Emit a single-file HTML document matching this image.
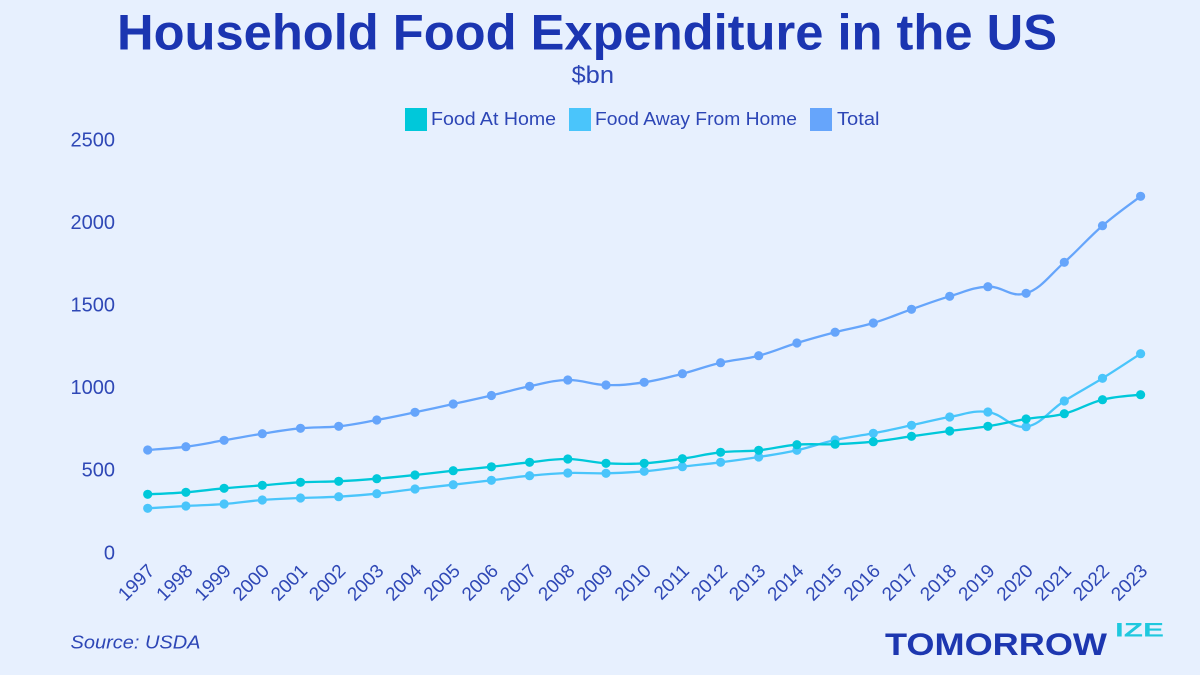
<!DOCTYPE html>
<html>
<head>
<meta charset="utf-8">
<style>
  html,body{margin:0;padding:0;background:#e7f0fe;}
  svg{display:block;}
  text{font-family:"Liberation Sans",sans-serif;}
</style>
</head>
<body>
<svg width="1200" height="675" viewBox="0 0 1200 675" xmlns="http://www.w3.org/2000/svg">
  <rect x="0" y="0" width="1200" height="675" fill="#e7f0fe"/>

  <!-- Title -->
  <text x="117" y="49.5" font-size="50" font-weight="bold" fill="#1b35b1" textLength="940" lengthAdjust="spacingAndGlyphs">Household Food Expenditure in the US</text>
  <text x="571.5" y="83" font-size="24" fill="#2d46b6" textLength="42.5" lengthAdjust="spacingAndGlyphs">$bn</text>

  <!-- Legend -->
  <rect x="405" y="108" width="22" height="23" fill="#00c8da"/>
  <text x="431" y="125" font-size="18.5" fill="#2d46b6" textLength="125" lengthAdjust="spacingAndGlyphs">Food At Home</text>
  <rect x="569" y="108" width="22" height="23" fill="#4ac5fb"/>
  <text x="595" y="125" font-size="18.5" fill="#2d46b6" textLength="202" lengthAdjust="spacingAndGlyphs">Food Away From Home</text>
  <rect x="810" y="108" width="22" height="23" fill="#66a5fb"/>
  <text x="837" y="125" font-size="18.5" fill="#2d46b6" textLength="42.5" lengthAdjust="spacingAndGlyphs">Total</text>

  <!-- Y axis labels -->
  <g font-size="20" fill="#2f48b6" text-anchor="end">
    <text x="115" y="146.7">2500</text>
    <text x="115" y="229">2000</text>
    <text x="115" y="311.7">1500</text>
    <text x="115" y="394">1000</text>
    <text x="115" y="476.7">500</text>
    <text x="115" y="559.3">0</text>
  </g>

  <!-- X axis labels -->
  <g font-size="19" fill="#2f48b6" text-anchor="end">
    <text transform="translate(155.7,572) rotate(-45)">1997</text>
    <text transform="translate(193.9,572) rotate(-45)">1998</text>
    <text transform="translate(232.1,572) rotate(-45)">1999</text>
    <text transform="translate(270.3,572) rotate(-45)">2000</text>
    <text transform="translate(308.5,572) rotate(-45)">2001</text>
    <text transform="translate(346.7,572) rotate(-45)">2002</text>
    <text transform="translate(384.8,572) rotate(-45)">2003</text>
    <text transform="translate(423.0,572) rotate(-45)">2004</text>
    <text transform="translate(461.2,572) rotate(-45)">2005</text>
    <text transform="translate(499.4,572) rotate(-45)">2006</text>
    <text transform="translate(537.6,572) rotate(-45)">2007</text>
    <text transform="translate(575.8,572) rotate(-45)">2008</text>
    <text transform="translate(614.0,572) rotate(-45)">2009</text>
    <text transform="translate(652.2,572) rotate(-45)">2010</text>
    <text transform="translate(690.4,572) rotate(-45)">2011</text>
    <text transform="translate(728.6,572) rotate(-45)">2012</text>
    <text transform="translate(766.7,572) rotate(-45)">2013</text>
    <text transform="translate(804.9,572) rotate(-45)">2014</text>
    <text transform="translate(843.1,572) rotate(-45)">2015</text>
    <text transform="translate(881.3,572) rotate(-45)">2016</text>
    <text transform="translate(919.5,572) rotate(-45)">2017</text>
    <text transform="translate(957.7,572) rotate(-45)">2018</text>
    <text transform="translate(995.9,572) rotate(-45)">2019</text>
    <text transform="translate(1034.1,572) rotate(-45)">2020</text>
    <text transform="translate(1072.3,572) rotate(-45)">2021</text>
    <text transform="translate(1110.5,572) rotate(-45)">2022</text>
    <text transform="translate(1148.6,572) rotate(-45)">2023</text>
  </g>

  <!-- Total series -->
  <g>
    <polyline class="sm" fill="none" stroke="#66a5fb" stroke-width="2.3" stroke-linejoin="round" stroke-linecap="round"
      points="147.7,450 185.9,446.7 224.1,440.3 262.3,433.7 300.5,428.3 338.7,426.3 376.8,420 415.0,412.3 453.2,404 491.4,395.5 529.6,386.3 567.8,380 606.0,385 644.2,382.3 682.4,373.7 720.6,362.7 758.7,355.7 796.9,343 835.1,332.2 873.3,323 911.5,309.3 949.7,296.3 987.9,286.7 1026.1,293.3 1064.3,262.3 1102.5,225.7 1140.6,196.3"/>
    <g fill="#66a5fb">
      <circle cx="147.7" cy="450" r="4.6"/><circle cx="185.9" cy="446.7" r="4.6"/><circle cx="224.1" cy="440.3" r="4.6"/>
      <circle cx="262.3" cy="433.7" r="4.6"/><circle cx="300.5" cy="428.3" r="4.6"/><circle cx="338.7" cy="426.3" r="4.6"/>
      <circle cx="376.8" cy="420" r="4.6"/><circle cx="415.0" cy="412.3" r="4.6"/><circle cx="453.2" cy="404" r="4.6"/>
      <circle cx="491.4" cy="395.5" r="4.6"/><circle cx="529.6" cy="386.3" r="4.6"/><circle cx="567.8" cy="380" r="4.6"/>
      <circle cx="606.0" cy="385" r="4.6"/><circle cx="644.2" cy="382.3" r="4.6"/><circle cx="682.4" cy="373.7" r="4.6"/>
      <circle cx="720.6" cy="362.7" r="4.6"/><circle cx="758.7" cy="355.7" r="4.6"/><circle cx="796.9" cy="343" r="4.6"/>
      <circle cx="835.1" cy="332.2" r="4.6"/><circle cx="873.3" cy="323" r="4.6"/><circle cx="911.5" cy="309.3" r="4.6"/>
      <circle cx="949.7" cy="296.3" r="4.6"/><circle cx="987.9" cy="286.7" r="4.6"/><circle cx="1026.1" cy="293.3" r="4.6"/>
      <circle cx="1064.3" cy="262.3" r="4.6"/><circle cx="1102.5" cy="225.7" r="4.6"/><circle cx="1140.6" cy="196.3" r="4.6"/>
    </g>
  </g>

  <!-- Food Away From Home series -->
  <g>
    <polyline class="sm" fill="none" stroke="#4ac5fb" stroke-width="2.3" stroke-linejoin="round" stroke-linecap="round"
      points="147.7,508.3 185.9,506 224.1,504 262.3,500 300.5,498 338.7,496.7 376.8,493.7 415.0,489 453.2,484.7 491.4,480.3 529.6,475.7 567.8,473 606.0,473.3 644.2,471.3 682.4,466.7 720.6,462.3 758.7,457 796.9,450.3 835.1,440 873.3,433.3 911.5,425.3 949.7,417 987.9,412 1026.1,426.7 1064.3,401 1102.5,378.3 1140.6,353.7"/>
    <g fill="#4ac5fb">
      <circle cx="147.7" cy="508.3" r="4.6"/><circle cx="185.9" cy="506" r="4.6"/><circle cx="224.1" cy="504" r="4.6"/>
      <circle cx="262.3" cy="500" r="4.6"/><circle cx="300.5" cy="498" r="4.6"/><circle cx="338.7" cy="496.7" r="4.6"/>
      <circle cx="376.8" cy="493.7" r="4.6"/><circle cx="415.0" cy="489" r="4.6"/><circle cx="453.2" cy="484.7" r="4.6"/>
      <circle cx="491.4" cy="480.3" r="4.6"/><circle cx="529.6" cy="475.7" r="4.6"/><circle cx="567.8" cy="473" r="4.6"/>
      <circle cx="606.0" cy="473.3" r="4.6"/><circle cx="644.2" cy="471.3" r="4.6"/><circle cx="682.4" cy="466.7" r="4.6"/>
      <circle cx="720.6" cy="462.3" r="4.6"/><circle cx="758.7" cy="457" r="4.6"/><circle cx="796.9" cy="450.3" r="4.6"/>
      <circle cx="835.1" cy="440" r="4.6"/><circle cx="873.3" cy="433.3" r="4.6"/><circle cx="911.5" cy="425.3" r="4.6"/>
      <circle cx="949.7" cy="417" r="4.6"/><circle cx="987.9" cy="412" r="4.6"/><circle cx="1026.1" cy="426.7" r="4.6"/>
      <circle cx="1064.3" cy="401" r="4.6"/><circle cx="1102.5" cy="378.3" r="4.6"/><circle cx="1140.6" cy="353.7" r="4.6"/>
    </g>
  </g>

  <!-- Food At Home series -->
  <g>
    <polyline class="sm" fill="none" stroke="#00c8da" stroke-width="2.3" stroke-linejoin="round" stroke-linecap="round"
      points="147.7,494.3 185.9,492.3 224.1,488.3 262.3,485.3 300.5,482.3 338.7,481.3 376.8,478.7 415.0,475 453.2,470.7 491.4,466.8 529.6,462.3 567.8,459 606.0,463.3 644.2,463.3 682.4,458.7 720.6,452.3 758.7,450.3 796.9,444.7 835.1,444.2 873.3,441.7 911.5,436.3 949.7,431 987.9,426.3 1026.1,419 1064.3,413.7 1102.5,399.7 1140.6,394.7"/>
    <g fill="#00c8da">
      <circle cx="147.7" cy="494.3" r="4.6"/><circle cx="185.9" cy="492.3" r="4.6"/><circle cx="224.1" cy="488.3" r="4.6"/>
      <circle cx="262.3" cy="485.3" r="4.6"/><circle cx="300.5" cy="482.3" r="4.6"/><circle cx="338.7" cy="481.3" r="4.6"/>
      <circle cx="376.8" cy="478.7" r="4.6"/><circle cx="415.0" cy="475" r="4.6"/><circle cx="453.2" cy="470.7" r="4.6"/>
      <circle cx="491.4" cy="466.8" r="4.6"/><circle cx="529.6" cy="462.3" r="4.6"/><circle cx="567.8" cy="459" r="4.6"/>
      <circle cx="606.0" cy="463.3" r="4.6"/><circle cx="644.2" cy="463.3" r="4.6"/><circle cx="682.4" cy="458.7" r="4.6"/>
      <circle cx="720.6" cy="452.3" r="4.6"/><circle cx="758.7" cy="450.3" r="4.6"/><circle cx="796.9" cy="444.7" r="4.6"/>
      <circle cx="835.1" cy="444.2" r="4.6"/><circle cx="873.3" cy="441.7" r="4.6"/><circle cx="911.5" cy="436.3" r="4.6"/>
      <circle cx="949.7" cy="431" r="4.6"/><circle cx="987.9" cy="426.3" r="4.6"/><circle cx="1026.1" cy="419" r="4.6"/>
      <circle cx="1064.3" cy="413.7" r="4.6"/><circle cx="1102.5" cy="399.7" r="4.6"/><circle cx="1140.6" cy="394.7" r="4.6"/>
    </g>
  </g>

  <!-- Source -->
  <text x="70.5" y="648.3" font-size="18.5" font-style="italic" fill="#2d46b6" textLength="130" lengthAdjust="spacingAndGlyphs">Source:  USDA</text>

  <!-- Logo -->
  <text x="885" y="655" font-size="31.5" font-weight="bold" fill="#1d37b0" textLength="222" lengthAdjust="spacingAndGlyphs">TOMORROW</text>
  <text x="1115" y="636.7" font-size="19" font-weight="bold" fill="#1fc8de" textLength="49" lengthAdjust="spacingAndGlyphs">IZE</text>
</svg>
<script>
(function(){
  var NS="http://www.w3.org/2000/svg";
  var pls=document.querySelectorAll("polyline.sm");
  for(var k=0;k<pls.length;k++){
    var pl=pls[k];
    var pts=pl.getAttribute("points").trim().split(/\s+/).map(function(s){var a=s.split(",");return [parseFloat(a[0]),parseFloat(a[1])];});
    var d="M"+pts[0][0]+","+pts[0][1];
    var t=0.4;
    for(var i=0;i<pts.length-1;i++){
      var p0=pts[i>0?i-1:i],p1=pts[i],p2=pts[i+1],p3=pts[i+2<pts.length?i+2:i+1];
      var c1x=p1[0]+(p2[0]-p0[0])*t/2, c1y=p1[1]+(p2[1]-p0[1])*t/2;
      var c2x=p2[0]-(p3[0]-p1[0])*t/2, c2y=p2[1]-(p3[1]-p1[1])*t/2;
      d+=" C"+c1x.toFixed(2)+","+c1y.toFixed(2)+" "+c2x.toFixed(2)+","+c2y.toFixed(2)+" "+p2[0]+","+p2[1];
    }
    var path=document.createElementNS(NS,"path");
    path.setAttribute("d",d);
    path.setAttribute("fill","none");
    path.setAttribute("stroke",pl.getAttribute("stroke"));
    path.setAttribute("stroke-width",pl.getAttribute("stroke-width"));
    path.setAttribute("stroke-linecap","round");
    pl.parentNode.replaceChild(path,pl);
  }
})();
</script>
</body>
</html>
